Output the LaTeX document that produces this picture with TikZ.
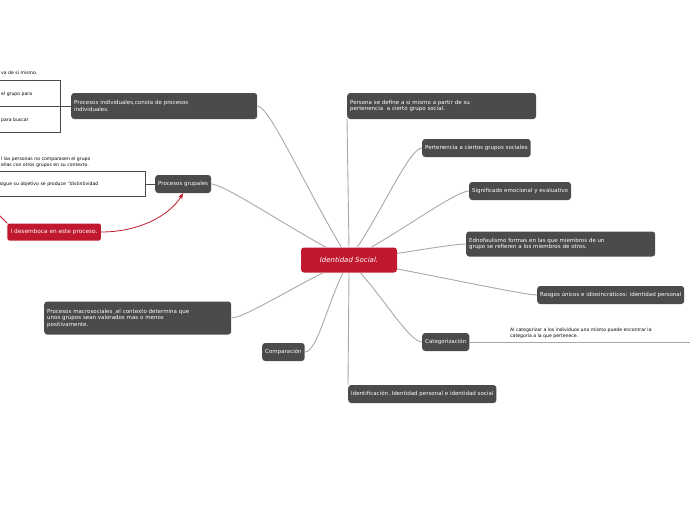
\documentclass[tikz,border=0pt]{standalone}
\usepackage{fontspec}
\setmainfont{DejaVu Sans}
\usetikzlibrary{positioning,calc,arrows.meta}
\definecolor{topicgray}{HTML}{4D4B49}
\definecolor{mainred}{HTML}{C0182E}
\definecolor{linegray}{HTML}{A8A8A8}
\tikzset{
  topic/.style={fill=topicgray, text=white, rounded corners=3pt, font=\fontsize{5.5}{6.5}\selectfont, align=left, inner sep=3pt, anchor=west, drop shadow/.try},
  link/.style={draw=linegray, line width=0.9pt},
  note/.style={font=\fontsize{4.6}{6}\selectfont, align=left, anchor=west, inner sep=1pt},
}
\begin{document}
\begin{tikzpicture}[x=1pt,y=-1pt]
        \useasboundingbox (0,0) rectangle (697,520);

        % Central topic
        \node[fill=mainred, text=white, rounded corners=3pt, minimum width=96pt, minimum height=25pt, font=\fontsize{7}{8}\selectfont\itshape] (centre) at (349,260) {Identidad Social.};

        % Left branches
        \node[topic, text width=180pt, minimum height=26pt] (indiv) at (71,106) {Procesos individuales,consta de procesos\\individuales.};
        \node[topic, minimum height=18pt] (grupal) at (155,184) {Procesos grupales};
        \node[topic, text width=181pt, minimum height=33pt] (macro) at (44,318) {Procesos macrosociales ,el contexto determina que\\unos grupos sean valorados mas o menos\\positivamente.};
        \node[topic, minimum height=18pt] (compar) at (262,352) {Comparación};

        % Right branches
        \node[topic, text width=183pt, minimum height=26pt] (persona) at (347,106) {Persona se define a si mismo a partir de su\\pertenencia\ \ a cierto grupo social.};
        \node[topic, minimum height=18pt] (perten) at (422,148) {Pertenencia a ciertos grupos sociales};
        \node[topic, minimum height=18pt] (signif) at (469,191) {Significado emocional y evaluativo};
        \node[topic, text width=183pt, minimum height=25pt] (ednof) at (466,244) {Ednofaulismo formas en las que miembros de un\\grupo se refieren a los miembros de otros.};
        \node[topic, minimum height=18pt] (rasgos) at (537,295) {Rasgos únicos e idiosincráticos: identidad personal};
        \node[topic, minimum height=18pt] (categ) at (422,342) {Categorización};
        \node[topic, minimum height=18pt] (ident) at (348,394) {Identificación .Identidad personal e identidad social};

        % Connectors from the centre
        \foreach \t in {indiv,grupal,macro,compar}
            \draw[link] (centre) .. controls ($(centre)!0.5!(\t.east)$) and ($(\t.east)+(12,0)$) .. (\t.east);
        \foreach \t in {perten,signif,ednof,rasgos,categ}
            \draw[link] (centre) .. controls ($(centre)!0.5!(\t.west)$) and ($(\t.west)+(-12,0)$) .. (\t.west);
        \draw[link] (centre.north) -- (persona.south west);
        \draw[link] (centre.south) -- (ident.north west);

        % Notes and sub-boxes, cut off at the left edge
        \node[note] (n1) at (0,73) {va de si mismo.};
        \draw[draw=topicgray, line width=0.4pt] (-5,80) rectangle (60,132);
        \draw[draw=topicgray, line width=0.4pt] (-5,106) -- (60,106);
        \node[note] (n2) at (0,94) {el grupo para};
        \node[note] (n3) at (0,120) {para buscar};
        \coordinate (subA) at (60,106);
        \draw[topicgray, line width=0.6pt] (subA) -- (indiv.west);

        \node[note] (n4) at (0,162) {l las personas no comparasen el grupo\\ellas con otros grupos en su contexto.};
        \node[draw=topicgray, line width=0.4pt, anchor=east, minimum width=150pt, minimum height=25pt, font=\fontsize{4.6}{6}\selectfont, align=left, text width=140pt] (distin) at (145,184) {sigue su objetivo se produce "distintividad};
        \draw[topicgray, line width=0.6pt] (distin.east) -- (grupal.west);

        % Relation
        \node[fill=mainred, text=white, rounded corners=2pt, anchor=east, minimum height=17pt, font=\fontsize{5.8}{7}\selectfont] (desemb) at (101,232) {l desemboca en este proceso.};
        \coordinate (relA) at (-2,214);
        \draw[mainred, line width=0.8pt] (relA) -- (desemb.north west);
        \draw[mainred, line width=0.8pt, -{Stealth[length=6pt]}] (desemb.east) .. controls (140,232) and (170,215) .. (grupal.south);

        % Categorizacion note
        \coordinate (lineEnd) at (690,342);
        \draw[linegray, line width=0.6pt] (categ.east) -- (lineEnd);
        \node[note] (n5) at (509,333) {Al categorizar a los individuos uno mismo puede encontrar la\\categoría a la que pertenece.};
    \end{tikzpicture}
\end{document}
